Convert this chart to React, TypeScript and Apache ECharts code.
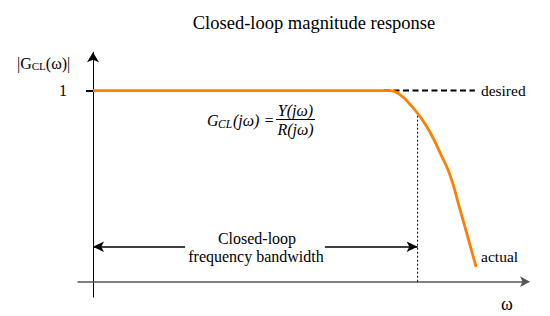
import { useEffect, useRef } from "react";
import * as echarts from "echarts";

// Frequency axis (arbitrary units) and magnitude values
const actualOmega = [0, 9.9, 10.23, 10.57, 10.9, 11.23, 11.57, 11.9, 12.23, 12.57, 12.77];
const actualMag = [1, 1, 0.979, 0.927, 0.864, 0.783, 0.674, 0.558, 0.38, 0.19, 0.077];
const desiredOmega = [9.7, 12.73];
const desiredMag = [1, 1];
const bandwidthOmega = 10.82;
const bandwidthMag = 0.88;
const arrowMag = 0.183;
const arrowGapOmega = [3.07, 7.73];
const yTickValues = [1];
const yTickLabels = ["1"];

const SERIF = "'Liberation Serif', 'DejaVu Serif', serif";

export default function App() {
  const ref = useRef<HTMLDivElement>(null);
  useEffect(() => {
    if (!ref.current) return;
    const chart = echarts.init(ref.current, null, { renderer: "svg" });
    const option: any = {
      animation: false,
      backgroundColor: "#ffffff",
      grid: { left: 78, right: 22, top: 52.3, bottom: 19, containLabel: false },
      xAxis: {
        type: "value",
        min: -0.5,
        max: 14.5,
        axisLine: {
          onZero: true,
          symbol: ["none", "arrow"],
          symbolSize: [8, 10],
          symbolOffset: [0, 2],
          lineStyle: { color: "#555555", width: 1.5 },
        },
        axisTick: { show: false },
        axisLabel: { show: false },
        splitLine: { show: false },
      },
      yAxis: {
        type: "value",
        min: -0.08,
        max: 1.2,
        axisLine: {
          onZero: true,
          symbol: ["none", "arrow"],
          symbolSize: [9, 10],
          lineStyle: { color: "#000000", width: 1 },
        },
        axisTick: {
          show: true,
          customValues: yTickValues,
          length: 7,
          lineStyle: { color: "#000", width: 2 },
        },
        axisLabel: {
          show: true,
          customValues: yTickValues,
          formatter: (v: number) => yTickLabels[yTickValues.indexOf(v)] ?? "",
          margin: 11,
          color: "#000",
          fontSize: 16,
          fontFamily: SERIF,
        },
        splitLine: { show: false },
      },
      series: [
        {
          name: "desired",
          type: "line",
          data: desiredOmega.map((x, i) => [x, desiredMag[i]]),
          symbol: "none",
          z: 2,
          lineStyle: { color: "#000", width: 2, type: [6, 3.5] },
          endLabel: {
            show: true,
            formatter: "desired",
            color: "#000",
            fontSize: 15.5,
            fontFamily: SERIF,
            distance: 6,
          },
        },
        {
          name: "actual",
          type: "line",
          data: actualOmega.map((x, i) => [x, actualMag[i]]),
          symbol: "none",
          smooth: 0.5,
          z: 3,
          lineStyle: { color: "#ff7f00", width: 2.8 },
          endLabel: {
            show: true,
            formatter: "actual",
            color: "#000",
            fontSize: 15.5,
            fontFamily: SERIF,
            distance: 5,
            offset: [0, -10],
          },
        },
        {
          name: "bandwidth",
          type: "line",
          data: [
            [bandwidthOmega, 0],
            [bandwidthOmega, bandwidthMag],
          ],
          symbol: "none",
          z: 1,
          lineStyle: { color: "#000", width: 1, type: [2, 2] },
          markLine: {
            silent: true,
            symbol: ["arrow", "none"],
            symbolSize: [8, 11],
            label: { show: false },
            lineStyle: { color: "#000", width: 1.5, type: "solid" },
            data: [
              [{ coord: [0, arrowMag] }, { coord: [arrowGapOmega[0], arrowMag] }],
              [{ coord: [bandwidthOmega, arrowMag] }, { coord: [arrowGapOmega[1], arrowMag] }],
            ],
          },
        },
      ],
      graphic: [
        {
          type: "text",
          x: 314,
          y: 23,
          style: {
            text: "Closed-loop magnitude response",
            fill: "#000",
            fontSize: 18.5,
            fontFamily: SERIF,
            align: "center",
            verticalAlign: "middle",
          },
        },
        {
          type: "text",
          x: 17,
          y: 63,
          style: {
            text: "{n||G}{s|CL}{n|(ω)|}",
            verticalAlign: "middle",
            rich: {
              n: { fontSize: 16, fontFamily: SERIF, fill: "#000", verticalAlign: "bottom" },
              s: { fontSize: 11, fontFamily: SERIF, fill: "#000", verticalAlign: "bottom" },
            },
          },
        },
        {
          type: "text",
          x: 257,
          y: 238.5,
          style: {
            text: "Closed-loop",
            fill: "#000",
            fontSize: 16,
            fontFamily: SERIF,
            align: "center",
            verticalAlign: "middle",
          },
        },
        {
          type: "text",
          x: 256,
          y: 256,
          style: {
            text: "frequency bandwidth",
            fill: "#000",
            fontSize: 16,
            fontFamily: SERIF,
            align: "center",
            verticalAlign: "middle",
          },
        },
        {
          type: "text",
          x: 507,
          y: 304,
          style: {
            text: "ω",
            fill: "#000",
            fontSize: 18,
            fontFamily: SERIF,
            align: "center",
            verticalAlign: "middle",
          },
        },
        {
          type: "text",
          x: 207,
          y: 120,
          style: {
            text: "G",
            fill: "#000",
            fontSize: 16,
            fontStyle: "italic",
            fontFamily: SERIF,
            verticalAlign: "middle",
          },
        },
        {
          type: "text",
          x: 218,
          y: 124,
          style: {
            text: "CL",
            fill: "#000",
            fontSize: 11.5,
            fontStyle: "italic",
            fontFamily: SERIF,
            verticalAlign: "middle",
          },
        },
        {
          type: "text",
          x: 233,
          y: 120,
          style: {
            text: "(jω) =",
            fill: "#000",
            fontSize: 16,
            fontStyle: "italic",
            fontFamily: SERIF,
            verticalAlign: "middle",
          },
        },
        {
          type: "text",
          x: 295.5,
          y: 110,
          style: {
            text: "Y(jω)",
            fill: "#000",
            fontSize: 16,
            fontStyle: "italic",
            fontFamily: SERIF,
            align: "center",
            verticalAlign: "middle",
          },
        },
        {
          type: "line",
          shape: { x1: 276, y1: 119.5, x2: 315, y2: 119.5 },
          style: { stroke: "#000", lineWidth: 1 },
        },
        {
          type: "text",
          x: 295.5,
          y: 129,
          style: {
            text: "R(jω)",
            fill: "#000",
            fontSize: 16,
            fontStyle: "italic",
            fontFamily: SERIF,
            align: "center",
            verticalAlign: "middle",
          },
        },
      ],
    };
    chart.setOption(option);
    return () => chart.dispose();
  }, []);
  return (
    <div
      ref={ref}
      style={{ position: "absolute", left: 0, top: 0, width: 550, height: 316 }}
    />
  );
}
